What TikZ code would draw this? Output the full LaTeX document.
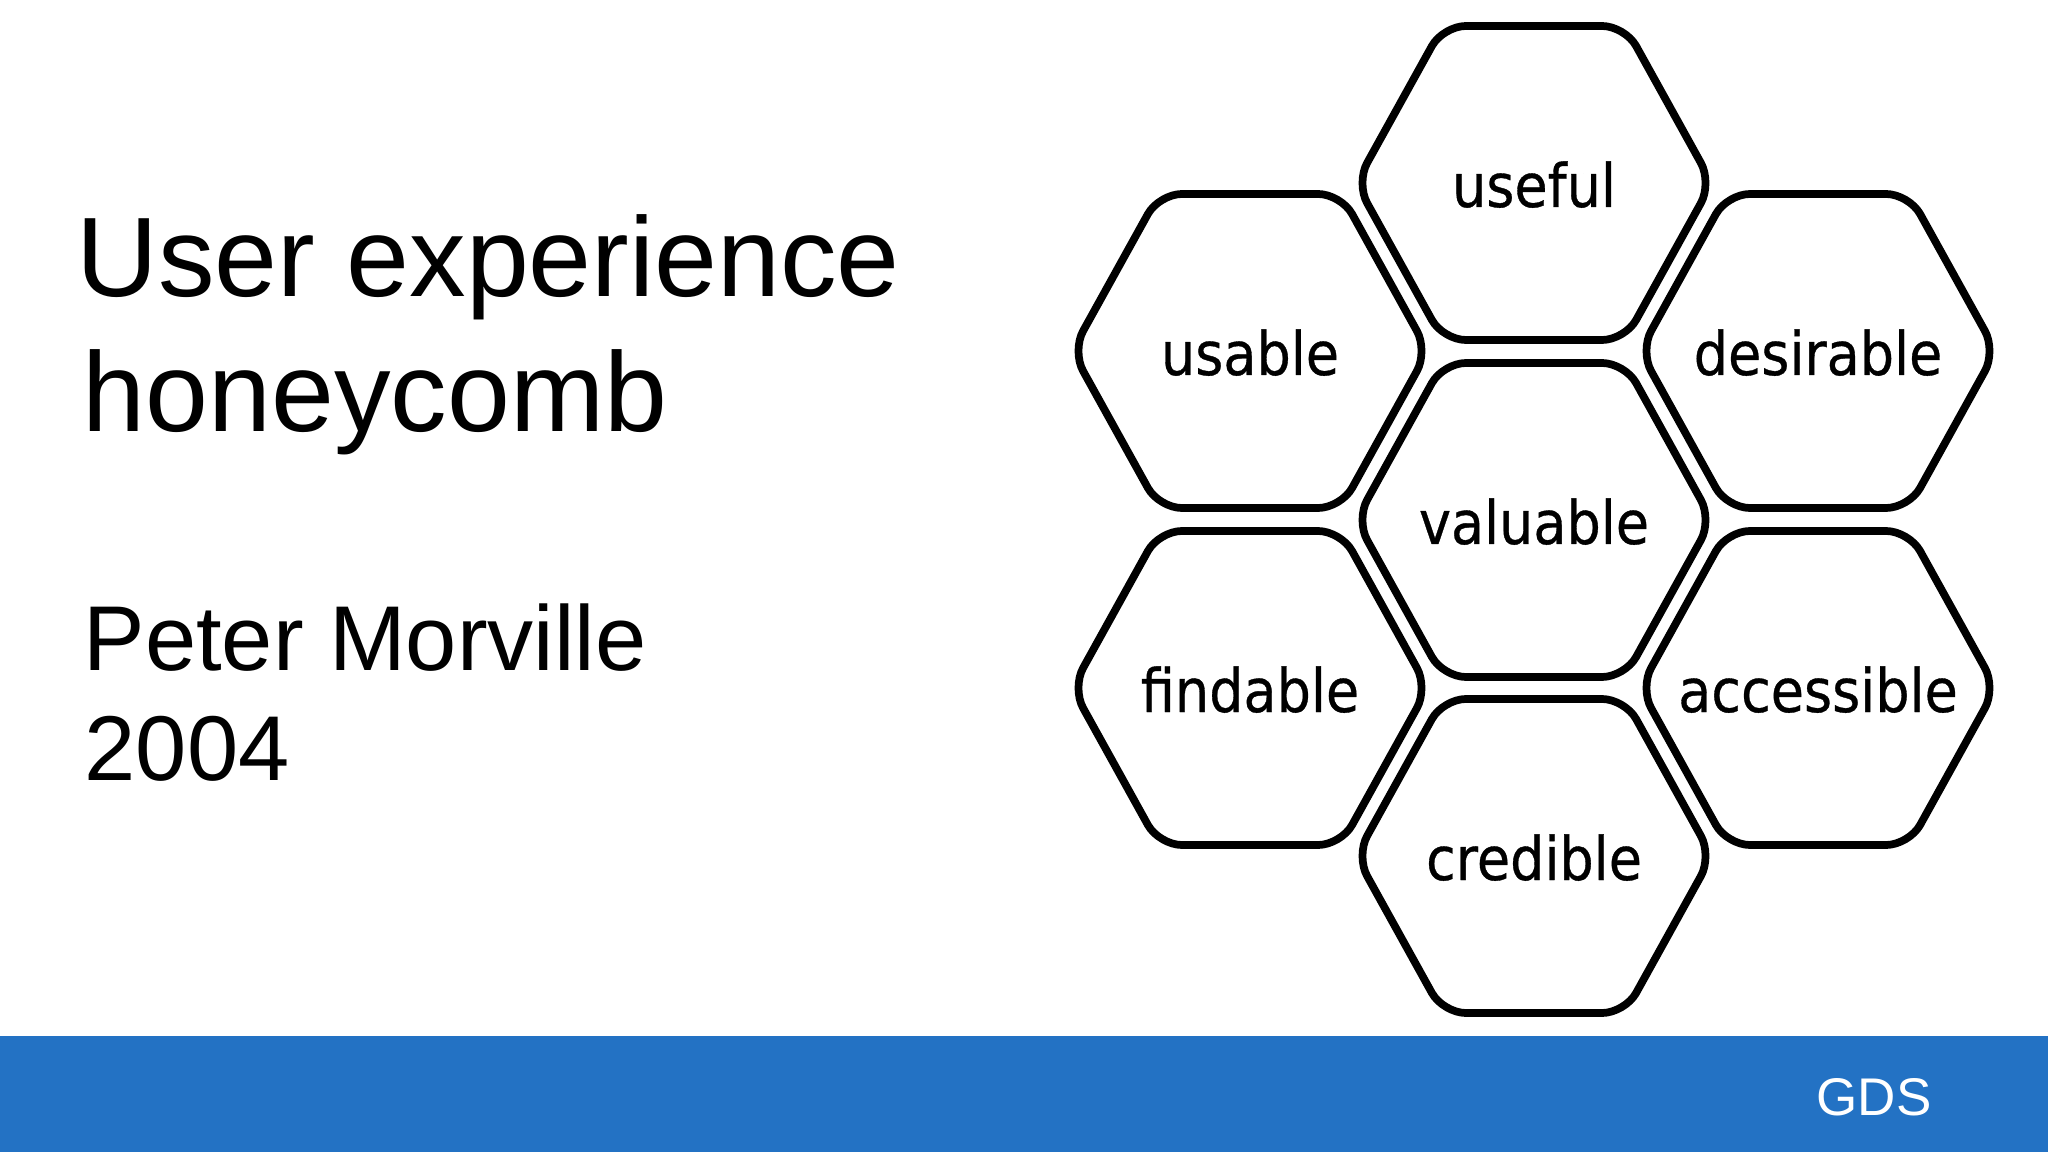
\documentclass[tikz,border=0pt]{standalone}
\usepackage{fontspec}
\usepackage{graphicx}
\setmainfont{Liberation Sans}
\newfontfamily\hexfont[FakeBold=0.6]{DejaVu Sans}
\definecolor{gdsblue}{RGB}{35,114,196}
\begin{document}
\begin{tikzpicture}[x=0.01cm,y=-0.01cm,
  hexline/.style={line width=2.2pt, rounded corners=6.5pt, draw=black, fill=white},
  hexlabel/.style={anchor=base, inner sep=0pt, font=\hexfont\fontsize{17.07}{20}\selectfont},
  titletext/.style={anchor=base west, inner sep=0pt, font=\fontsize{32.15}{38}\selectfont},
  subtext/.style={anchor=base west, inner sep=0pt, font=\fontsize{26.18}{31}\selectfont},
  footertext/.style={anchor=base west, inner sep=0pt, text=white, font=\fontsize{15.08}{18}\selectfont}
]
\useasboundingbox (0,0) rectangle (2048,1152);
\fill[white] (0,0) rectangle (2048,1152);
\fill[gdsblue] (0,1036) rectangle (2048,1152);

\node[titletext] (t1) at (76,297) {User experience};
\node[titletext] (t2) at (82,432) {honeycomb};
\node[subtext] (author) at (83,670) {Peter Morville};
\node[subtext] (year) at (84,780) {2004};
\node[footertext] (gds) at (1816,1115) {GDS};

\foreach \n/\x/\y in {useful/1534/183, usable/1250/351, desirable/1818/351,
  valuable/1534/520, findable/1250/688, accessible/1818/688, credible/1534/856} {
  \draw[hexline] (\x+178,\y) -- (\x+91,\y+157) -- (\x-91,\y+157) -- (\x-178,\y)
     -- (\x-91,\y-157) -- (\x+91,\y-157) -- cycle;
  \node[hexlabel] (\n) at (\x,\y+24) {\scalebox{0.9}[1]{\n}};
}
\end{tikzpicture}
\end{document}
